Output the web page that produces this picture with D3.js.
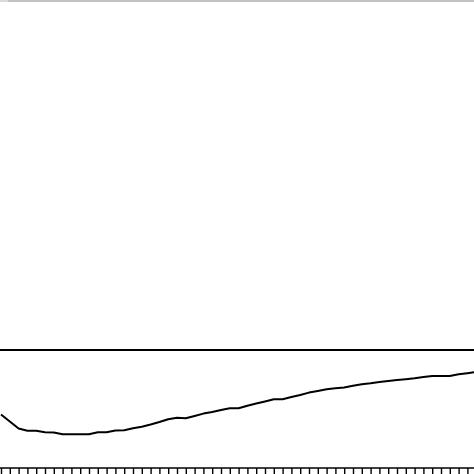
<!DOCTYPE html>
<html>
<head>
<meta charset="utf-8">
<script src="https://cdn.jsdelivr.net/npm/d3@7"></script>
<style>
  html, body { margin: 0; padding: 0; background: #fff; overflow: hidden; }
  svg { display: block; }
</style>
</head>
<body>
<script>
// x positions: one sample per tick (index)
const ticks = d3.range(0, 55);
// series values (reference line at 0)
const values = [
  -6.45, -7.15, -7.85, -8.07, -8.08, -8.23, -8.25, -8.43, -8.43, -8.43,
  -8.43, -8.23, -8.23, -8.05, -8.03, -7.83, -7.67, -7.45, -7.20, -6.92,
  -6.77, -6.82, -6.60, -6.36, -6.20, -6.00, -5.83, -5.83, -5.58, -5.35,
  -5.15, -4.93, -4.93, -4.70, -4.50, -4.26, -4.10, -3.92, -3.83, -3.76,
  -3.58, -3.42, -3.33, -3.20, -3.10, -3.00, -2.92, -2.83, -2.70, -2.60,
  -2.60, -2.60, -2.43, -2.32, -2.20
];
const referenceValue = [0];

const W = 474, H = 474;
const svg = d3.select("body").append("svg")
  .attr("width", W).attr("height", H);

const x = d3.scaleLinear().domain([0, 54]).range([1, 476.2]);
const y = d3.scaleLinear().domain([0, -10]).range([350, 450]);

// top grey border
svg.append("rect").attr("x", 0).attr("y", 0).attr("width", W).attr("height", 2)
  .attr("fill", "#c2c2c2");
svg.append("rect").attr("x", 0).attr("y", 0).attr("width", 8).attr("height", 2)
  .attr("fill", "#d9d9d9");

// reference line
svg.selectAll("line.ref").data(referenceValue).enter().append("line")
  .attr("class", "ref")
  .attr("x1", 0).attr("x2", W)
  .attr("y1", d => y(d)).attr("y2", d => y(d))
  .attr("stroke", "#000").attr("stroke-width", 2);

// series line
const line = d3.line()
  .x((d, i) => x(ticks[i]))
  .y(d => y(d));
svg.append("path").datum(values)
  .attr("d", line)
  .attr("fill", "none")
  .attr("stroke", "#000")
  .attr("stroke-width", 2)
  .attr("stroke-linejoin", "round");

// bottom axis
const axis = d3.axisBottom(x)
  .tickValues(ticks)
  .tickFormat("")
  .tickSizeOuter(0)
  .tickSizeInner(8);
const g = svg.append("g").attr("transform", "translate(0,468)").call(axis);
g.select(".domain").attr("stroke", "#000").attr("stroke-width", 1.5)
  .attr("d", "M0,0H" + W);
g.selectAll(".tick line").attr("stroke", "#000").attr("stroke-width", 1.4);
</script>
</body>
</html>
